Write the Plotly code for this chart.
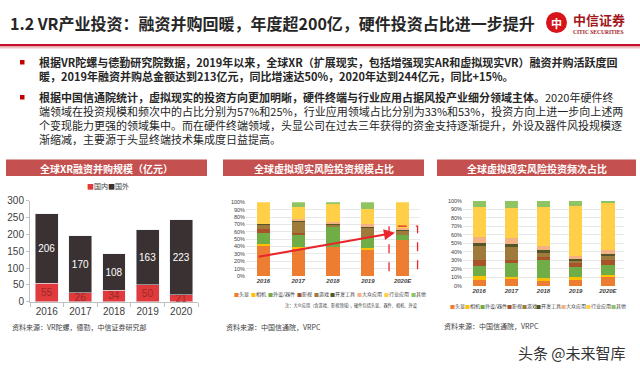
import plotly.graph_objects as go

W, H = 640, 370
def px(x): return x / W
def py(y): return 1 - y / H

FONT = "Noto Sans CJK SC"

# ---------------- data ----------------
years = ["2016", "2017", "2018", "2019", "2020"]
domestic = [55, 26, 34, 50, 21]
overseas = [206, 170, 108, 163, 223]

vc_years = ["2016", "2017", "2018", "2019", "2020E"]
segments = ["头显", "相机", "外设/器件", "影视", "游戏", "开发工具", "大众应用", "行业应用", "其他"]
seg_colors = ["#ED7D31", "#FFC000", "#70AD47", "#A9532B", "#9E7A3B",
              "#55552A", "#F4B183", "#FFCF47", "#8FC463"]

# 投资规模占比 (%), one list per segment, years 2016..2020E
scale_headset = [41, 36, 39, 35, 49]
scale_camera = [3, 3, 0, 3, 0]
scale_device = [14, 16, 27, 14, 7]
scale_film = [6, 3, 0, 0, 0]
scale_game = [5, 15, 3, 14, 5]
scale_devtool = [1, 2, 1, 1, 2]
scale_mass = [0, 2, 3, 3, 2]
scale_industry = [30, 16, 25, 21, 35]
scale_other = [0, 7, 2, 9, 0]

# 投资频次占比 (%)
freq_headset = [7, 9, 7, 8, 10]
freq_camera = [5, 2, 2, 2, 3]
freq_device = [12, 16, 21, 12, 12]
freq_film = [6, 4, 4, 5, 5]
freq_game = [18, 16, 6, 3, 6]
freq_devtool = [2, 2, 2, 2, 2]
freq_mass = [7, 7, 5, 3, 4]
freq_industry = [36, 36, 46, 59, 55]
freq_other = [7, 8, 7, 6, 3]

scale_series = [scale_headset, scale_camera, scale_device, scale_film, scale_game,
                scale_devtool, scale_mass, scale_industry, scale_other]
freq_series = [freq_headset, freq_camera, freq_device, freq_film, freq_game,
               freq_devtool, freq_mass, freq_industry, freq_other]

fig = go.Figure()

# ---------------- left chart ----------------
RED = "#E03A3C"
DARK = "#3A3232"
fig.add_trace(go.Bar(x=years, y=domestic, name="国内", marker_color=RED, width=0.68,
                     text=domestic, textposition="inside", insidetextanchor="middle",
                     constraintext="none", textangle=0,
                     textfont=dict(size=10, color="#9A2A2A", family="Arial"),
                     xaxis="x", yaxis="y", showlegend=False))
fig.add_trace(go.Bar(x=years, y=overseas, name="国外", marker_color=DARK, width=0.68,
                     text=overseas, textposition="inside", insidetextanchor="middle",
                     constraintext="none", textangle=0,
                     textfont=dict(size=10, color="white", family="Arial"),
                     xaxis="x", yaxis="y", showlegend=False))

# ---------------- middle & right charts ----------------
for name, col, vals in zip(segments, seg_colors, scale_series):
    fig.add_trace(go.Bar(x=vc_years, y=vals, name=name, marker_color=col, width=0.38,
                         marker_line_width=0, xaxis="x2", yaxis="y2", showlegend=False,
                         hovertemplate="%{x} " + name + ": %{y}%<extra></extra>"))
for name, col, vals in zip(segments, seg_colors, freq_series):
    fig.add_trace(go.Bar(x=vc_years, y=vals, name=name, marker_color=col, width=0.41,
                         marker_line_width=0, xaxis="x3", yaxis="y3", showlegend=False,
                         hovertemplate="%{x} " + name + ": %{y}%<extra></extra>"))

axis_gray = "#BFBFBF"
small_tick = dict(size=6, color="#404040", family="Arial", weight="bold", style="italic")
pct_tick = dict(size=5.5, color="#404040", family="Arial")
fig.update_layout(
    width=W, height=H, margin=dict(l=0, r=0, t=0, b=0, autoexpand=False),
    paper_bgcolor="white", plot_bgcolor="white", barmode="stack",
    font=dict(family=FONT),
    xaxis=dict(domain=[px(30), px(198)], type="category", showline=True, linecolor=axis_gray,
               ticks="outside", tickson="boundaries", ticklen=4, tickcolor=axis_gray,
               tickfont=dict(size=10, color="#404040", family="Arial"), showgrid=False,
               anchor="y", automargin=False),
    yaxis=dict(domain=[py(301.7), py(200.7)], range=[0, 300], dtick=50, showline=True,
               linecolor=axis_gray, ticks="outside", ticklen=3, tickcolor=axis_gray,
               showgrid=False, zeroline=False, anchor="x", automargin=False,
               tickfont=dict(size=10, color="#404040", family="Arial")),
    xaxis2=dict(domain=[px(246), px(420)], type="category", showline=False, ticks="",
                tickfont=small_tick, showgrid=False, anchor="y2", automargin=False),
    yaxis2=dict(domain=[py(276), py(202.3)], range=[0, 100], dtick=10, ticksuffix="%",
                showgrid=True, gridcolor="#E8E8E8", gridwidth=0.5, zeroline=False,
                tickfont=pct_tick, anchor="x2", automargin=False),
    xaxis3=dict(domain=[px(463), px(624)], type="category", showline=False, ticks="",
                tickfont=small_tick, showgrid=False, anchor="y3", automargin=False),
    yaxis3=dict(domain=[py(286), py(200.7)], range=[0, 100], dtick=10, ticksuffix="%",
                showgrid=True, gridcolor="#E8E8E8", gridwidth=0.5, zeroline=False,
                tickfont=pct_tick, anchor="x3", automargin=False),
)

shapes = []
annos = []

def note(text, x, y, size, color="#404040", xanchor="left", family=FONT):
    annos.append(dict(text=text, x=px(x), y=py(y), xref="paper", yref="paper",
                      xanchor=xanchor, yanchor="middle", showarrow=False,
                      font=dict(size=size, color=color, family=family)))

# top red divider
shapes.append(dict(type="rect", xref="paper", yref="paper", x0=0, x1=1, y0=py(46.5), y1=py(44),
                   fillcolor="#C8102E", line_width=0, layer="below"))
shapes.append(dict(type="rect", xref="paper", yref="paper", x0=0, x1=1, y0=py(48.5), y1=py(46.5),
                   fillcolor="#EBC4C4", line_width=0, layer="below"))

# title
note("<b>1.2 VR产业投资：融资并购回暖，年度超200亿，硬件投资占比进一步提升</b>", 8, 23, 16, "#262626")
# logo
shapes.append(dict(type="circle", xref="paper", yref="paper", x0=px(546), x1=px(567),
                   y0=py(33), y1=py(12), fillcolor="#D7141A", line_width=0))
note("<b>中</b>", 556.5, 22.5, 11, "white", "center")
note("<b>中信证券</b>", 571, 19, 13, "#A3161C")
note("<b>CITIC SECURITIES</b>", 571, 32, 5.5, "#A3161C", family="Liberation Serif")

# bullets
for by in [62, 97]:
    shapes.append(dict(type="rect", xref="paper", yref="paper", x0=px(20), x1=px(24.5),
                       y0=py(by + 2.5), y1=py(by - 2), fillcolor="#C00000", line_width=0))
b_lines = [
    (62, "<b>根据VR陀螺与德勤研究院数据，2019年以来，全球XR（扩展现实，包括增强现实AR和虚拟现实VR）融资并购活跃度回</b>"),
    (76, "<b>暖，2019年融资并购总金额达到213亿元，同比增速达50%，2020年达到244亿元，同比+15%。</b>"),
    (97, "<b>根据中国信通院统计，虚拟现实的投资方向更加明晰，硬件终端与行业应用占据风投产业细分领域主体。</b>2020年硬件终"),
    (111, "端领域在投资规模和频次中的占比分别为57%和25%，行业应用领域占比分别为33%和53%，投资方向上进一步向上述两"),
    (125, "个变现能力更强的领域集中。而在硬件终端领域，头显公司在过去三年获得的资金支持逐渐提升，外设及器件风投规模逐"),
    (139, "渐缩减，主要源于头显终端技术集成度日益提高。"),
]
for ly, t in b_lines:
    note(t, 37, ly, 11, "#262626")

# chart header boxes
HDR = "#C4514F"
for x0, x1, t in [(6, 207, "全球XR融资并购规模（亿元）"), (223, 424, "全球虚拟现实风险投资规模占比"),
                  (437, 636, "全球虚拟现实风险投资频次占比")]:
    shapes.append(dict(type="rect", xref="paper", yref="paper", x0=px(x0), x1=px(x1),
                       y0=py(176), y1=py(159.5), fillcolor=HDR, line_width=0, layer="below"))
    note("<b>" + t + "</b>", (x0 + x1) / 2, 168, 10, "white", "center")

# left legend
for lx, name, col in [(85, "国内", RED), (106, "国外", DARK)]:
    note("<span style='color:%s'>■</span>%s" % (col, name), lx, 186, 7)

# small legends for middle/right
def small_legend(x_start, x_end, y, fs):
    widths = [(1 + len(s.replace("/", ""))) * fs + (fs * 0.4 if "/" in s else 0) for s in segments]
    gap = (x_end - x_start - sum(widths)) / (len(segments) - 1)
    x = x_start
    for s, c, w in zip(segments, seg_colors, widths):
        note("<span style='color:%s'>■</span>%s" % (c, s), x, y, fs)
        x += w + gap

small_legend(232, 424, 294, 5)
small_legend(448, 624, 305.5, 5)

note("注：大众应用（含游戏、影视领域），硬件包括头显、器件、相机、外设", 283, 305, 4.2)

# sources
note("资料来源：VR陀螺，德勤，中信证券研究部", 10, 327, 7)
note("资料来源：中国信通院，VRPC", 224, 327, 7)
note("资料来源：中国信通院，VRPC", 442, 325.5, 7)

# arrow and dashed box in middle chart
annos.append(dict(x=3.78, y=58.7, xref="x2", yref="y2", ax=-0.18, ay=25.8, axref="x2", ayref="y2",
                  showarrow=True, arrowhead=2, arrowsize=1, arrowwidth=2.2, arrowcolor="#E8262B",
                  text=""))
shapes.append(dict(type="rect", xref="x2", yref="y2", x0=3.61, x1=4.43, y0=-1, y1=67.8,
                   line=dict(color="#E8262B", width=1.3, dash="dash"), fillcolor="rgba(0,0,0,0)"))

# footer
note("头条 @未来智库", 628, 352, 15, "#333333", "right")

fig.update_layout(shapes=shapes, annotations=annos)
fig.write_html("out.html", config={"displayModeBar": False},
               post_script="document.body.style.margin='0';")
